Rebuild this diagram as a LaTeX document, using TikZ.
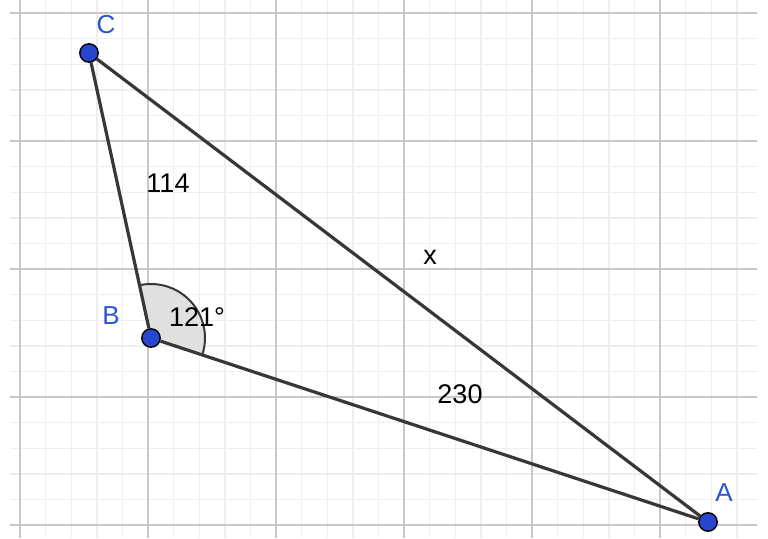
\documentclass[tikz,border=0pt]{standalone}
\usepackage{fontspec}
\setmainfont{Liberation Sans}
\usetikzlibrary{calc}
\definecolor{ptblue}{RGB}{40,70,205}
\definecolor{lblblue}{RGB}{45,85,210}
\definecolor{segcol}{RGB}{55,55,55}
\definecolor{majgrid}{RGB}{200,200,200}
\definecolor{mingrid}{RGB}{238,238,238}

\begin{document}
\begin{tikzpicture}[x=0.5pt,y=0.5pt,
    pt/.style={circle,draw=black,line width=0.7pt,fill=ptblue,inner sep=0pt,minimum size=9.2pt},
    lbl/.style={text=lblblue,font=\fontsize{13}{15}\selectfont},
    num/.style={font=\fontsize{13.5}{16}\selectfont},
    seg/.style={draw=segcol,line width=1.6pt}]
    \useasboundingbox (0,0) rectangle (768,538);
    % grid
    \begin{scope}[shift={(20,13)}]
      \draw[mingrid,line width=0.7pt,step=12.8pt] (-10,-13) grid (737,525);
      \draw[majgrid,line width=1pt,step=64pt] (-10,-13) grid (737,525);
    \end{scope}
    % angle at B
    \coordinate (b0) at (151,200);
    \fill[black!12] (b0) -- ++(-18.3:27pt) arc[start angle=-18.3,end angle=102.3,radius=27pt] -- cycle;
    \draw[segcol,line width=1pt] (b0) ++(-18.3:27pt) arc[start angle=-18.3,end angle=102.3,radius=27pt];
    % triangle
    \node[pt] (C) at (89,485) {};
    \node[pt] (B) at (b0) {};
    \node[pt] (A) at (708,16) {};
    \draw[seg] (C) -- (B);
    \draw[seg] (B) -- (A);
    \draw[seg] (A) -- (C);
    % labels
    \node[lbl] (Cl) at (106,513) {C};
    \node[lbl] (Bl) at (111,222) {B};
    \node[lbl] (Al) at (724,45) {A};
    \node[num] (a) at (168,355) {114};
    \node[num] (x) at (430,281) {x};
    \node[num] (c) at (460,144) {230};
    \node[num] (ang) at (197,221) {121°};
  \end{tikzpicture}
\end{document}
